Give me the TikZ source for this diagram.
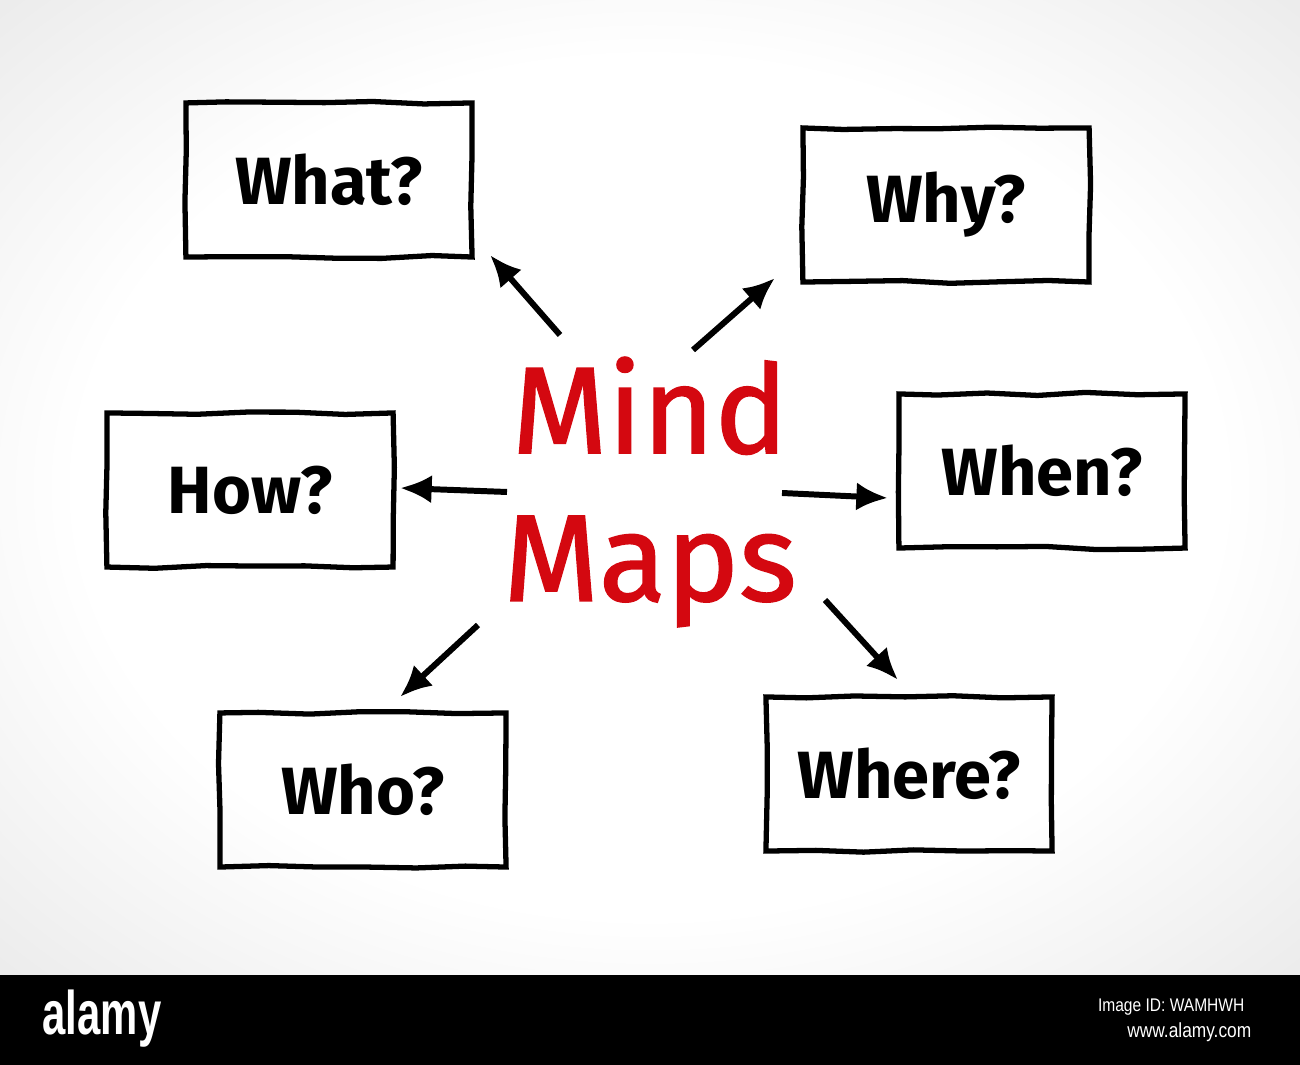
\documentclass[tikz,border=0pt]{standalone}
\usepackage{fontspec}
\setmainfont{Fira Sans}
\newfontfamily\mmfont[FakeBold=1.3]{Fira Sans}
\newfontfamily\alamyfont[FakeStretch=0.68]{Liberation Sans}
\newfontfamily\alamysmall[FakeStretch=0.85]{Liberation Sans}
\usetikzlibrary{arrows.meta,decorations.pathmorphing}
\definecolor{mmred}{RGB}{212,8,16}
\pgfdeclareradialshading{vign}{\pgfpoint{0bp}{0bp}}{color(0bp)=(white);color(22bp)=(white);color(50bp)=(black!16);color(72bp)=(black!27)}
\begin{document}
\begin{tikzpicture}[x=0.01cm,y=-0.01cm,
  qbox/.style={draw=black, line width=1.5pt, minimum width=2.86cm, minimum height=1.54cm,
    font=\fontsize{19}{23}\selectfont\bfseries, inner sep=0pt,
    decorate, decoration={random steps, segment length=14pt, amplitude=0.45pt}},
  arr/.style={-{Latex[length=9pt,width=8pt]}, line width=1.7pt, black},
  center/.style={text=mmred, font=\mmfont\fontsize{35}{42}\selectfont, align=center},
  wm/.style={text=white, inner sep=0pt}]
\useasboundingbox (0,0) rectangle (1300,1065);
\shade[shading=vign] (0,0) rectangle (1300,975);
\fill[black] (0,975) rectangle (1300,1065);
% boxes
\node[qbox] (what)  at (329,180) {What?};
\node[qbox] (why)   at (946,205) {Why?};
\node[qbox] (how)   at (250,490) {How?};
\node[qbox] (when)  at (1042,471) {When?};
\node[qbox] (who)   at (363,790) {Who?};
\node[qbox] (where) at (909,774) {Where?};
% centre
\node[center] (mm) at (650,492) {Mind\\Maps};
% arrow end points
\coordinate (s1) at (560,335); \coordinate (e1) at (490,255);
\coordinate (s2) at (693,350); \coordinate (e2) at (775,278);
\coordinate (s3) at (507,492); \coordinate (e3) at (400,488);
\coordinate (s4) at (782,493); \coordinate (e4) at (888,498);
\coordinate (s5) at (478,625); \coordinate (e5) at (400,697);
\coordinate (s6) at (825,600); \coordinate (e6) at (898,680);
\draw[arr] (s1) -- (e1);
\draw[arr] (s2) -- (e2);
\draw[arr] (s3) -- (e3);
\draw[arr] (s4) -- (e4);
\draw[arr] (s5) -- (e5);
\draw[arr] (s6) -- (e6);
% footer
\node[wm, font=\alamyfont\fontsize{17.5}{18}\selectfont\bfseries] (logo) at (102,1019) {alamy};
\node[wm, font=\alamysmall\fontsize{5.2}{6}\selectfont, anchor=east] (imgid) at (1245,1007) {Image ID: WAMHWH};
\node[wm, font=\alamysmall\fontsize{5.8}{6}\selectfont, anchor=east] (url) at (1252,1032) {www.alamy.com};
\end{tikzpicture}
\end{document}
